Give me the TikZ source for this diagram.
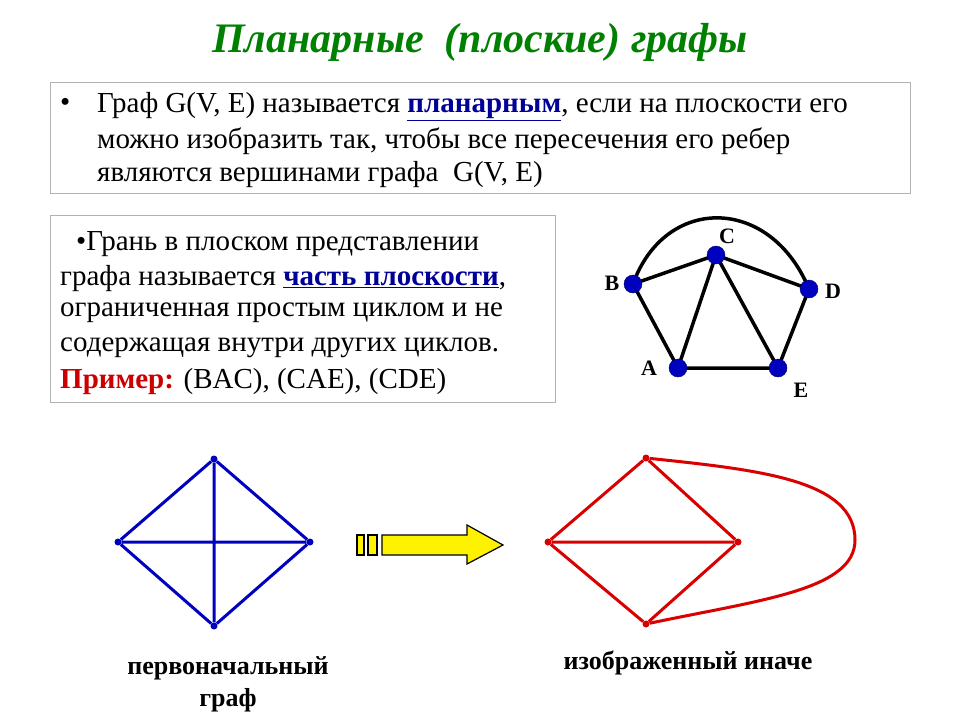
\documentclass[tikz,border=0pt]{standalone}
\usepackage{fontspec}
\setmainfont{Liberation Serif}
\begin{document}
\begin{tikzpicture}[x=1pt,y=-1pt,
  txt/.style={anchor=west,inner sep=0,font=\fontsize{29}{32}\selectfont},
  pt/.style={circle,fill=blue!75!black,draw=blue!40!black,minimum size=18pt,inner sep=0},
  lab/.style={font=\bfseries\fontsize{22}{24}\selectfont,inner sep=0},
  blab/.style={font=\bfseries\fontsize{26}{28}\selectfont,inner sep=0},
  bv/.style={circle,fill=blue!75!black,minimum size=7pt,inner sep=0},
  rv/.style={circle,fill=red!85!black,minimum size=7pt,inner sep=0},
  blk/.style={line width=3.5pt},
  bl/.style={line width=3pt,draw=blue!75!black},
  rd/.style={line width=3pt,draw=red!85!black}]
\useasboundingbox (0,0) rectangle (960,720);
\node[font=\bfseries\itshape\fontsize{42}{46}\selectfont,text=green!50!black] (t) at (480,42) {Планарные\ \ (плоские) графы};
\draw[gray!60,line width=1pt] (50,82) rectangle (910,193);
\node[txt] (b1) at (60,105) {•};
\node[txt] (l1) at (97,107) {Граф G(V, E) называется \textcolor{blue!60!black}{\bfseries\underline{планарным}}, если на плоскости его};
\node[txt] (l2) at (97,141) {можно изобразить так, чтобы все пересечения его ребер};
\node[txt] (l3) at (97,175) {являются вершинами графа\ \ G(V, E)};
\draw[gray!60,line width=1pt] (50,215) rectangle (555,402);
\node[txt] (m1) at (76,244) {•Грань в плоском представлении};
\node[txt] (m2) at (60,279) {графа называется \textcolor{blue!60!black}{\bfseries\underline{часть плоскости}},};
\node[txt] (m3) at (60,313) {ограниченная простым циклом и не};
\node[txt] (m4) at (60,348) {содержащая внутри других циклов.};
\node[txt] (m5) at (60,382) {\textcolor{red!80!black}{\bfseries Пример:} (BAC), (CAE), (CDE)};
% pentagon graph
\coordinate (B) at (633,284); \coordinate (C) at (716,255); \coordinate (D) at (809,289);
\coordinate (A) at (678,368); \coordinate (E) at (778,368);
\draw[blk] (B)--(C)--(D)--(E)--(A)--(B) (A)--(C)--(E);
\draw[blk] (B) .. controls (665,195) and (770,195) .. (D);
\foreach \v in {A,B,C,D,E} \node[pt] (n\v) at (\v) {};
\node[lab] at (612,283) {B}; \node[lab] at (727,236) {C}; \node[lab] at (833,291) {D};
\node[lab] at (649,368) {A}; \node[lab] at (801,390) {E};
% blue graph
\node[bv] (bt) at (214,459) {}; \node[bv] (bL) at (118,542) {};
\node[bv] (bR) at (310,542) {}; \node[bv] (bb) at (214,626) {};
\draw[bl] (bt)--(bR)--(bb)--(bL)--(bt) (bt)--(bb) (bL)--(bR);
% arrow
\draw[fill=yellow,line width=1.2pt] (357,535) rectangle (364,555);
\draw[fill=yellow,line width=1.2pt] (368,535) rectangle (377,555);
\draw[fill=yellow,line width=1.2pt] (382,535)--(467,535)--(467,525)--(503,545)--(467,564)--(467,555)--(382,555)--cycle;
% red graph
\node[rv] (rt) at (646,458) {}; \node[rv] (rL) at (548,542) {};
\node[rv] (rR) at (738,542) {}; \node[rv] (rb) at (646,624) {};
\draw[rd] (rt)--(rR)--(rb)--(rL)--(rt) (rL)--(rR);
\draw[rd] (rt) .. controls (760,470) and (855,480) .. (855,540) .. controls (855,590) and (760,600) .. (rb);
\node[blab] (p1) at (228,668) {первоначальный};
\node[blab] (p2) at (228,700) {граф};
\node[blab] (p3) at (688,663) {изображенный иначе};
\end{tikzpicture}
\end{document}
